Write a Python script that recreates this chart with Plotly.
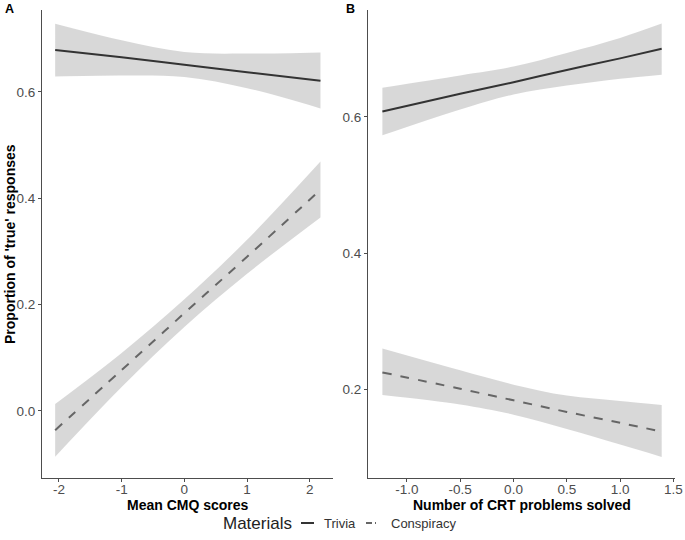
import plotly.graph_objects as go

# Panel A: Mean CMQ scores
a_x = [-2.06, -1.0, 0.0, 1.0, 2.17]
a_trivia = [0.679, 0.665, 0.651, 0.637, 0.621]
a_trivia_lo = [0.629, 0.631, 0.628, 0.607, 0.569]
a_trivia_hi = [0.728, 0.697, 0.675, 0.672, 0.674]
a_consp = [-0.036, 0.077, 0.184, 0.290, 0.416]
a_consp_lo = [-0.086, 0.045, 0.158, 0.258, 0.364]
a_consp_hi = [0.013, 0.109, 0.210, 0.322, 0.469]

# Panel B: Number of CRT problems solved
b_x = [-1.23, -0.5, 0.0, 0.5, 1.0, 1.39]
b_trivia = [0.608, 0.634, 0.651, 0.669, 0.686, 0.700]
b_trivia_lo = [0.573, 0.611, 0.633, 0.646, 0.656, 0.662]
b_trivia_hi = [0.643, 0.661, 0.674, 0.694, 0.716, 0.737]
b_consp = [0.225, 0.201, 0.184, 0.167, 0.151, 0.138]
b_consp_lo = [0.192, 0.178, 0.163, 0.142, 0.119, 0.101]
b_consp_hi = [0.260, 0.228, 0.207, 0.191, 0.183, 0.177]

a_xticks = [-2, -1, 0, 1, 2]
a_yticks = [0.0, 0.2, 0.4, 0.6]
b_xticks = [-1.0, -0.5, 0.0, 0.5, 1.0, 1.5]
b_yticks = [0.2, 0.4, 0.6]

BAND = "rgba(153,153,153,0.38)"
FONT = "Liberation Sans, Arial, sans-serif"

fig = go.Figure()

def add_band(xs, lo, hi, xa, ya):
    fig.add_trace(go.Scatter(x=xs, y=lo, mode="lines", line=dict(width=0, shape="spline"),
                             hoverinfo="skip", showlegend=False, xaxis=xa, yaxis=ya))
    fig.add_trace(go.Scatter(x=xs, y=hi, mode="lines", line=dict(width=0, shape="spline"),
                             fill="tonexty", fillcolor=BAND,
                             hoverinfo="skip", showlegend=False, xaxis=xa, yaxis=ya))

def add_line(xs, ys, dash, color, xa, ya):
    fig.add_trace(go.Scatter(x=xs, y=ys, mode="lines", showlegend=False,
                             line=dict(color=color, width=2, dash=dash, shape="spline"),
                             xaxis=xa, yaxis=ya))

add_band(a_x, a_trivia_lo, a_trivia_hi, "x", "y")
add_band(a_x, a_consp_lo, a_consp_hi, "x", "y")
add_band(b_x, b_trivia_lo, b_trivia_hi, "x2", "y2")
add_band(b_x, b_consp_lo, b_consp_hi, "x2", "y2")
add_line(a_x, a_trivia, "solid", "#333333", "x", "y")
add_line(a_x, a_consp, "dash", "#666666", "x", "y")
add_line(b_x, b_trivia, "solid", "#333333", "x2", "y2")
add_line(b_x, b_consp, "dash", "#666666", "x2", "y2")

axis_common = dict(showgrid=False, zeroline=False, showline=True, linecolor="#4d4d4d",
                   linewidth=1.2, ticks="outside", ticklen=3, tickcolor="#4d4d4d",
                   automargin=False,
                   tickfont=dict(family=FONT, size=13.5, color="#4d4d4d"))
xaxis_extra = dict(ticklabelstandoff=-4)

# plot area in pixels: l=42, r=10, t=10, b=62 -> 633 x 468
def px_x(px):
    return (px - 42) / 633.0

def px_y(py):
    return (478 - py) / 468.0

def txt(text, x, y, size, color, xanchor="left", angle=0):
    return dict(text=text, xref="paper", yref="paper", x=px_x(x), y=px_y(y),
                xanchor=xanchor, yanchor="middle", showarrow=False, textangle=angle,
                font=dict(family=FONT, size=size, color=color))

LEG_Y = 523
annotations = [
    txt("<b>A</b>", 3, 9, 12.5, "black"),
    txt("<b>B</b>", 344, 9, 12.5, "black"),
    txt("<b>Mean CMQ scores</b>", 187.5, 505, 14, "black", "center"),
    txt("<b>Number of CRT problems solved</b>", 521.5, 505, 14, "black", "center"),
    txt("<b>Proportion of 'true' responses</b>", 10, 244, 14, "black", "center", -90),
    txt("Materials", 221, LEG_Y, 17, "#222222"),
    txt("Trivia", 322, LEG_Y, 13, "#333333"),
    txt("Conspiracy", 389, LEG_Y, 13, "#333333"),
]
shapes = [
    dict(type="line", xref="paper", yref="paper", x0=px_x(301), x1=px_x(314),
         y0=px_y(LEG_Y), y1=px_y(LEG_Y), line=dict(color="#333333", width=2)),
    dict(type="line", xref="paper", yref="paper", x0=px_x(366), x1=px_x(376),
         y0=px_y(LEG_Y), y1=px_y(LEG_Y), line=dict(color="#666666", width=2, dash="6px,3px,2px")),
]

fig.update_layout(
    width=685, height=540,
    paper_bgcolor="white", plot_bgcolor="white",
    margin=dict(l=42, r=10, t=10, b=62),
    font=dict(family=FONT),
    showlegend=False,
    xaxis=dict(domain=[0, px_x(333)], range=[-2.27, 2.37], tickvals=a_xticks,
               ticktext=[str(v) for v in a_xticks], anchor="y", **axis_common, **xaxis_extra),
    yaxis=dict(domain=[0, 1], range=[-0.126, 0.754], tickvals=a_yticks,
               ticktext=[f"{v:.1f}" for v in a_yticks], anchor="x", **axis_common),
    xaxis2=dict(domain=[px_x(368), 1.0], range=[-1.365, 1.515], tickvals=b_xticks,
                ticktext=[f"{v:.1f}" for v in b_xticks], anchor="y2", **axis_common, **xaxis_extra),
    yaxis2=dict(domain=[0, 1], range=[0.070, 0.757], tickvals=b_yticks,
                ticktext=[f"{v:.1f}" for v in b_yticks], anchor="x2", **axis_common),
    annotations=annotations,
    shapes=shapes,
)

fig.write_html("out.html", config={"displayModeBar": False},
               post_script="document.body.style.margin='0px';")
